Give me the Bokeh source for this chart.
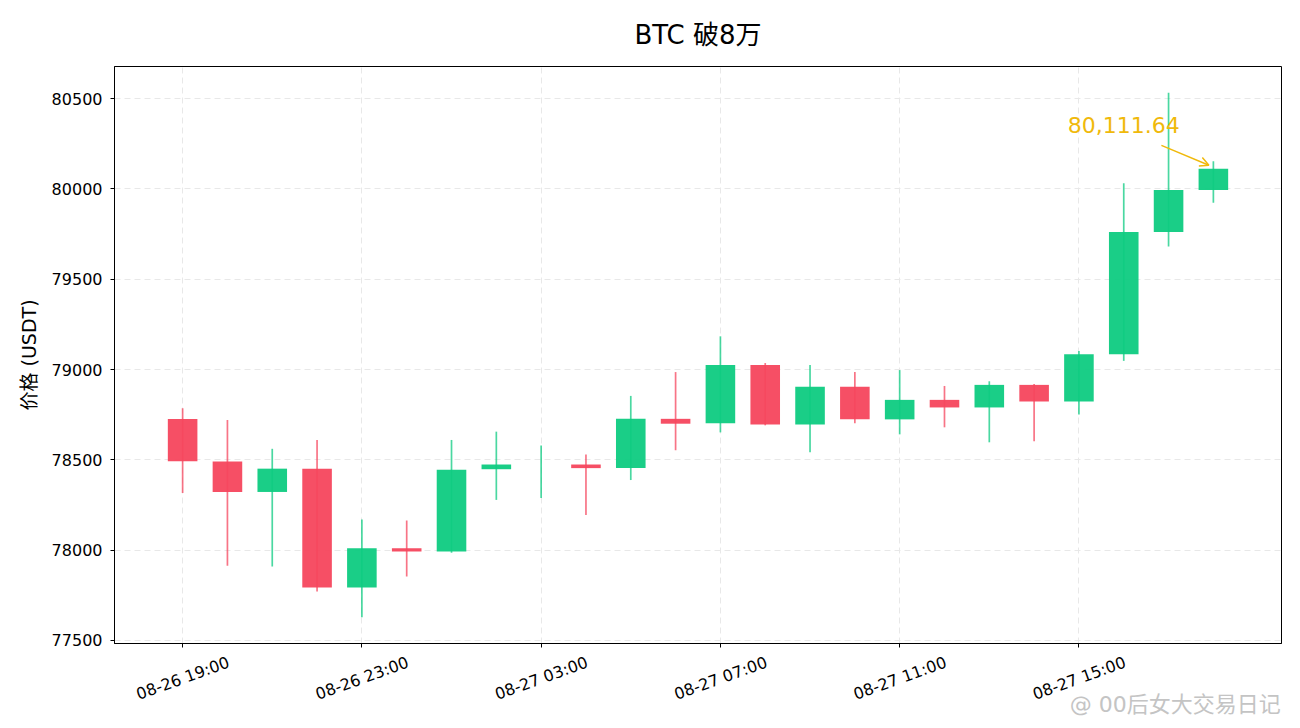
import math
from bokeh.plotting import figure
from bokeh.models import (Range1d, FixedTicker, Label, Arrow, OpenHead, BasicTickFormatter,
                          ColumnDataSource, LinearAxis, CustomJSTickFormatter)
from bokeh.embed import file_html
from bokeh.resources import INLINE

times = ["08-26 19:00", "08-26 20:00", "08-26 21:00", "08-26 22:00", "08-26 23:00",
         "08-27 00:00", "08-27 01:00", "08-27 02:00", "08-27 03:00", "08-27 04:00",
         "08-27 05:00", "08-27 06:00", "08-27 07:00", "08-27 08:00", "08-27 09:00",
         "08-27 10:00", "08-27 11:00", "08-27 12:00", "08-27 13:00", "08-27 14:00",
         "08-27 15:00", "08-27 16:00", "08-27 17:00", "08-27 18:00"]
opens = [78726, 78491, 78322, 78451, 77793, 78010, 77992, 78448, 78470, 78474, 78454, 78727,
         78702, 79025, 78696, 78904, 78724, 78832, 78790, 78915, 78823, 79085, 79762, 79994]
closes = [78492, 78322, 78451, 77793, 78010, 77992, 78445, 78474, 78470, 78454, 78727, 78700,
          79025, 78696, 78904, 78724, 78832, 78790, 78915, 78823, 79085, 79762, 79994, 80111.64]
highs = [78786, 78720, 78561, 78610, 78170, 78164, 78610, 78656, 78579, 78529, 78854, 78986,
         79184, 79036, 79025, 78986, 78997, 78909, 78935, 78920, 79102, 80032, 80533, 80153]
lows = [78316, 77914, 77909, 77771, 77628, 77854, 77986, 78278, 78289, 78195, 78388, 78553,
        78652, 78691, 78542, 78702, 78641, 78680, 78597, 78603, 78751, 79048, 79681, 79924]
y_ticks = [77500, 78000, 78500, 79000, 79500, 80000, 80500]
x_tick_idx = [0, 4, 8, 12, 16, 20]
watermark = "@ 00后女大交易日记"

RED = "#f6465d"
GREEN = "#0ecb81"
GOLD = "#f0b90b"
FONT = "'DejaVu Sans', 'Noto Sans CJK SC', sans-serif"
LABEL_SHIFT = 1.03  # rotated labels: centre the text under its tick
WM_X = 22.15        # horizontal centre of the watermark (x units)

n = len(times)
idx = list(range(n))
colors = [GREEN if c >= o else RED for o, c in zip(opens, closes)]
src = ColumnDataSource(dict(
    x=idx, top=[max(o, c) for o, c in zip(opens, closes)],
    bottom=[min(o, c) for o, c in zip(opens, closes)],
    high=highs, low=lows, color=colors))

lo, hi = min(lows), max(highs)
pad = (hi - lo) * 0.05

p = figure(width=1292, height=720, output_backend="svg", toolbar_location=None,
           x_range=Range1d(-1.52, n - 1 + 1.52), y_range=Range1d(lo - pad, hi + pad),
           min_border_left=114, min_border_right=11, min_border_top=66, min_border_bottom=77,
           title="BTC 破8万")
p.title.align = "center"
p.title.text_font = FONT
p.title.text_font_size = "26px"
p.title.text_font_style = "normal"
p.title.text_color = "#000000"
p.title.standoff = 34

p.segment(x0="x", y0="low", x1="x", y1="high", source=src, line_color="color",
          line_width=1.7, line_alpha=0.75)
p.vbar(x="x", width=0.66, top="top", bottom="bottom", source=src, fill_color="color",
       line_color=None, fill_alpha=0.95)

xa = p.xaxis[0]
ya = p.yaxis[0]
xa.ticker = FixedTicker(ticks=x_tick_idx)
xa.major_label_overrides = {i: "" for i in x_tick_idx}
xa.major_label_standoff = 0
xa.major_label_text_font_size = "1px"

ya.ticker = FixedTicker(ticks=y_ticks)
ya.formatter = BasicTickFormatter(use_scientific=False)
ya.axis_label = "价格 (USDT)"
ya.axis_label_text_font = FONT
ya.axis_label_text_font_size = "19px"
ya.axis_label_text_font_style = "normal"
ya.axis_label_text_color = "#000000"
ya.axis_label_standoff = 9
ya.major_label_text_font = FONT
ya.major_label_text_font_size = "16px"
ya.major_label_text_color = "#000000"
ya.major_label_standoff = 8

for ax in (xa, ya):
    ax.axis_line_color = "black"
    ax.major_tick_line_color = "black"
    ax.major_tick_out = 4
    ax.major_tick_in = 0
    ax.minor_tick_line_color = None

# tick labels of the time axis (rotated, centred under the ticks)
xl = LinearAxis(
    ticker=FixedTicker(ticks=[i + LABEL_SHIFT for i in x_tick_idx]),
    formatter=CustomJSTickFormatter(args=dict(labels=times, d=LABEL_SHIFT),
                                    code="return labels[Math.round(tick - d)];"),
    major_label_orientation=math.radians(20), major_label_standoff=14,
    major_label_text_font=FONT, major_label_text_font_size="16px",
    major_label_text_color="#000000", axis_line_color=None,
    major_tick_line_color=None, minor_tick_line_color=None,
    major_tick_out=0, major_tick_in=0)
p.add_layout(xl, "below")

# watermark under the chart, bottom right
wm = LinearAxis(
    ticker=FixedTicker(ticks=[WM_X]),
    formatter=CustomJSTickFormatter(args=dict(t=watermark), code="return t;"),
    major_label_orientation="horizontal", major_label_standoff=-24,
    major_label_text_font=FONT, major_label_text_font_size="22px",
    major_label_text_color="#c4c4c4", axis_line_color=None,
    major_tick_line_color=None, minor_tick_line_color=None,
    major_tick_out=0, major_tick_in=0)
p.add_layout(wm, "below")

p.outline_line_color = "black"
p.outline_line_width = 1
for g in (p.xgrid, p.ygrid):
    g.grid_line_color = "#e8e8e8"
    g.grid_line_dash = "6 4"
    g.grid_line_width = 1

last_x, last_c = n - 1, closes[-1]
p.add_layout(Label(x=last_x - 2, y=last_c + 245, text=f"{last_c:,.2f}",
                   text_align="center", text_baseline="middle", text_color=GOLD,
                   text_font=FONT, text_font_size="22px"))
p.add_layout(Arrow(end=OpenHead(size=9, line_color=GOLD, line_width=1.5),
                   x_start=last_x - 1.16, y_start=last_c + 130,
                   x_end=last_x - 0.1, y_end=last_c + 20,
                   line_color=GOLD, line_width=1.5))

open("out.html", "w").write(file_html(p, INLINE))
